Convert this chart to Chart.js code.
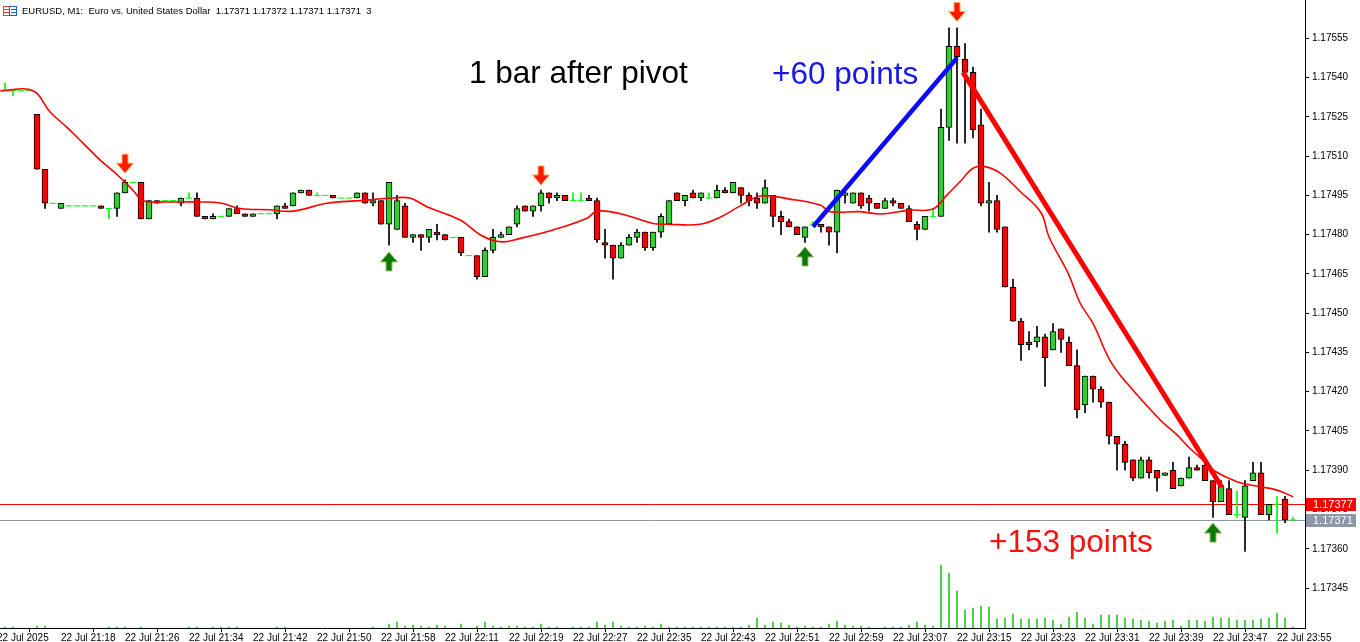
<!DOCTYPE html>
<html><head><meta charset="utf-8">
<script src="https://cdn.jsdelivr.net/npm/chart.js@4.4.1/dist/chart.umd.min.js"></script>
<style>html,body{margin:0;padding:0;background:#fff;overflow:hidden}#wrap{width:1360px;height:642px;position:relative}</style>
</head><body><div id="wrap"><canvas id="c" width="1360" height="642"></canvas></div>
<script>
// Prices are stored in points above 1.17000 (1 point = 0.00001)
const PRICE_BASE = 1.17, POINT = 0.00001;
const openPts = [535,535,535,535,526,505,492,490,491,491,491,491,491,490,490,496,500,500,486,493,493,493,492,494,494,487,486,487,487,490,488,487,488,488,488,491,491,496,497,495,495,495,494,494,494,496,492,493,484,482,491,479,480,479,481,480,479,479,472,472,464,474,479,480,484,491,489,491,496,494,495,493,493,494,493,477,476,471,476,479,481,475,481,484,496,493,496,494,494,494,497,496,498,495,494,492,495,487,485,483,479,484,484,483,481,495,492,496,494,492,490,493,492,490,484,482,487,487,521,552,547,542,522,492,493,483,460,447,439,439,441,436,444,439,430,415,426,421,416,403,400,394,387,394,390,388,390,384,387,391,392,386,378,383,373,372,386,389,373,377,379,371];
const highPts = [538,535,535,535,526,505,492,492,491,491,491,491,491,490,496,501,500,500,493,493,493,493,494,496,496,487,488,487,490,491,488,488,488,488,491,492,496,497,497,496,495,495,494,494,496,496,496,493,500,495,492,480,480,482,484,480,479,479,472,472,475,482,481,483,491,491,491,497,496,496,495,496,496,495,494,482,476,477,480,482,481,481,488,493,496,495,497,496,496,499,498,500,498,496,496,501,495,489,486,483,483,485,484,483,497,497,496,496,495,492,494,494,492,491,485,487,490,528,559,559,553,544,528,500,495,483,463,448,443,445,442,446,444,441,436,426,426,422,416,403,401,394,395,395,390,389,393,387,395,392,393,386,386,386,382,386,393,393,377,380,380,372];
const lowPts = [535,533,535,535,505,490,492,490,491,491,491,491,490,486,487,496,500,486,486,492,493,493,491,494,487,486,486,487,487,488,487,487,488,488,486,490,491,496,495,495,495,494,494,494,494,492,491,484,476,482,479,477,474,477,478,478,479,472,472,463,464,473,479,480,483,489,487,489,492,493,493,493,493,493,477,471,463,471,476,477,474,474,479,484,493,491,494,493,494,494,496,496,492,491,490,492,483,480,483,480,477,484,481,476,473,492,492,490,489,490,490,491,490,485,478,482,487,487,516,515,515,517,491,481,481,460,447,432,436,437,422,436,435,430,410,412,416,414,400,390,390,386,387,387,382,388,383,384,387,390,386,372,378,373,372,359,386,373,371,366,370,371];
const closePts = [535,535,535,535,505,492,492,492,491,491,491,491,490,490,496,500,500,486,493,492,493,493,494,494,487,486,487,487,490,488,487,488,488,488,491,490,496,497,495,495,495,494,494,494,496,492,493,484,500,493,479,480,479,482,480,478,479,473,472,464,474,479,480,483,490,489,491,496,494,495,493,493,493,493,478,476,471,476,479,481,475,481,487,493,493,495,494,496,494,497,496,500,495,493,492,498,487,485,483,480,483,484,483,481,497,496,496,491,492,490,493,492,490,485,482,487,487,521,552,548,542,520,492,493,482,460,447,438,438,441,433,443,440,430,413,426,421,416,403,400,393,387,394,389,387,389,383,387,391,390,386,378,384,373,373,384,389,373,377,377,371,371];
const volumes = [1,1,0,0,2,2,0,0,0,0,0,0,0,1,1,1,0,1,0,0,0,0,0,1,1,0,1,1,1,1,0,0,0,0,1,1,0,0,0,0,0,0,0,0,0,0,1,0,4,6,2,3,2,1,3,2,0,4,0,2,6,2,1,2,2,1,1,4,1,1,0,1,1,1,6,3,6,2,1,1,2,1,4,1,1,1,1,1,1,1,1,1,1,3,10,3,6,5,3,1,2,1,1,4,7,3,2,2,1,0,1,1,1,3,6,3,2,63,55,37,18,20,22,21,9,10,14,9,9,9,10,8,4,11,16,10,4,13,13,13,10,9,8,7,5,7,8,2,8,8,7,11,10,10,8,8,8,9,10,15,10,1];
// Moving average: [bar index, points]
const maIdx = [-0.6,3.5,5.6,7.75,9.75,11.9,14,16,17.25,20.25,24.4,27.1,29.4,33,36,40.25,44.4,48.5,50.6,52.75,56.9,59.4,61.9,64.4,68.5,72.75,74,76.9,81,82.75,86.9,89.4,91.9,94.4,98.1,101.9,103.1,106.9,109.4,113.1,116,117.75,119.4,121,122.5,124.4,126.9,129.5,130.5,132.9,134.4,136,138.1,140.25,144.4,146.5,148.1,149.75,151,154,156.9,159,161];
const maPts = [535,535,527,521,515,508.5,503,497,493,492.5,492.5,492,490,489.5,489,492,493,494,494,490.7,485.6,480,477.3,478.6,481.8,486.3,489,488,484.3,484,484,486.7,491,494.8,493.6,491.3,488.8,488.8,487.9,489.4,489.8,495.2,500.3,505.4,506,503.5,496.5,488.4,479.1,465.2,453.8,446.1,432.1,423.2,409.2,403.5,398.4,393.9,390.1,385.6,383.7,382.4,379.9];
const blueLineIdx = [101, 119], blueLinePts = [483, 547.5];
const redLineIdx = [119.75, 152.1], redLinePts = [542, 383.5];
const downArrowIdx = [15, 67, 119], downArrowPts = [503.5, 499, 561.5];
const upArrowIdx = [48, 100, 151], upArrowPts = [473.4, 475.3, 369.8];
const askPrice = 1.17377, bidPrice = 1.17371;
const priceTicks = [1.17345,1.17360,1.17375,1.17390,1.17405,1.17420,1.17435,1.17450,1.17465,1.17480,1.17495,1.17510,1.17525,1.17540,1.17555];
const timeTickIdx = [-1,7,15,23,31,39,47,55,63,71,79,87,95,103,111,119,127,135,143,151,159];
const timeTickLabels = ['22 Jul 2025','22 Jul 21:18','22 Jul 21:26','22 Jul 21:34','22 Jul 21:42','22 Jul 21:50','22 Jul 21:58','22 Jul 22:11','22 Jul 22:19','22 Jul 22:27','22 Jul 22:35','22 Jul 22:43','22 Jul 22:51','22 Jul 22:59','22 Jul 23:07','22 Jul 23:15','22 Jul 23:23','22 Jul 23:31','22 Jul 23:39','22 Jul 23:47','22 Jul 23:55'];

const P = v => +(PRICE_BASE + v*POINT).toFixed(6);
const idx = openPts.map((_, i) => i);
const isFlat = i => openPts[i] === closePts[i];
const GREEN = '#32cd32', RED = '#ff0000', LIME = '#00ff00';

const wickData = idx.map(i => ({x:i, y:[P(lowPts[i]), P(highPts[i])]}));
const bodyData = idx.map(i => isFlat(i) ? {x:i, y:null} : {x:i, y:[P(openPts[i]), P(closePts[i])]});
const flatData = idx.filter(isFlat).map(i => ({x:i, y:P(openPts[i])}));

const FONT = '"Liberation Sans", Arial, sans-serif';

const overlay = {
  id:'overlay',
  beforeDatasetsDraw(ch){
    const {ctx, chartArea:a} = ch, y = ch.scales.y;
    ctx.save();
    ctx.lineWidth = 1;
    ctx.strokeStyle = '#ff0000';
    let py = Math.round(y.getPixelForValue(askPrice)) + 0.5;
    ctx.beginPath(); ctx.moveTo(a.left, py); ctx.lineTo(a.right, py); ctx.stroke();
    ctx.strokeStyle = '#8a98a8';
    py = Math.round(y.getPixelForValue(bidPrice)) + 0.5;
    ctx.beginPath(); ctx.moveTo(a.left, py); ctx.lineTo(a.right, py); ctx.stroke();
    ctx.restore();
  },
  afterDatasetsDraw(ch){
    const {ctx} = ch, x = ch.scales.x, y = ch.scales.y;
    ctx.save();
    const arrow = (cx, tip, s, fill, edge) => {
      ctx.beginPath();
      ctx.moveTo(cx, tip);
      ctx.lineTo(cx - 8.5, tip - s*10);
      ctx.lineTo(cx - 3, tip - s*10);
      ctx.lineTo(cx - 3, tip - s*19);
      ctx.lineTo(cx + 3, tip - s*19);
      ctx.lineTo(cx + 3, tip - s*10);
      ctx.lineTo(cx + 8.5, tip - s*10);
      ctx.closePath();
      ctx.fillStyle = fill; ctx.fill();
      ctx.lineWidth = 1; ctx.strokeStyle = edge; ctx.stroke();
    };
    downArrowIdx.forEach((k, j) => arrow(x.getPixelForValue(k), y.getPixelForValue(P(downArrowPts[j])), 1, '#ff1a00', '#ffb060'));
    upArrowIdx.forEach((k, j) => arrow(x.getPixelForValue(k), y.getPixelForValue(P(upArrowPts[j])), -1, '#0a7a0a', '#9bbf60'));
    ctx.textBaseline = 'middle'; ctx.textAlign = 'left';
    ctx.font = '31.5px ' + FONT;
    ctx.fillStyle = '#000'; ctx.fillText('1 bar after pivot', 469, 74);
    ctx.fillStyle = '#1818e8'; ctx.fillText('+60 points', 772, 75);
    ctx.fillStyle = '#ff1010'; ctx.fillText('+153 points', 989, 543);
    ctx.font = '9.5px ' + FONT; ctx.fillStyle = '#000';
    ctx.fillText('EURUSD, M1:  Euro vs. United States Dollar  1.17371 1.17372 1.17371 1.17371  3', 22, 11);
    ctx.fillStyle = '#fff'; ctx.fillRect(3, 6, 14, 10);
    ctx.strokeStyle = '#e04040'; ctx.strokeRect(3.5, 6.5, 6, 9);
    ctx.strokeStyle = '#2060c0'; ctx.strokeRect(9.5, 6.5, 7, 9);
    ctx.fillStyle = '#e04040'; ctx.fillRect(4, 9, 5, 1); ctx.fillRect(4, 12, 5, 1);
    ctx.fillStyle = '#2060c0'; ctx.fillRect(11, 9, 5, 1); ctx.fillRect(11, 12, 5, 1);
    ctx.restore();
  },
  afterDraw(ch){
    const {ctx, chartArea:a} = ch, y = ch.scales.y;
    ctx.save();
    ctx.font = '11px ' + FONT; ctx.textBaseline = 'middle'; ctx.textAlign = 'left';
    const box = (v, bg) => {
      const py = Math.round(y.getPixelForValue(v));
      ctx.fillStyle = bg; ctx.fillRect(a.right + 1, py - 6, 50, 13);
      ctx.fillStyle = '#fff'; ctx.fillText(v.toFixed(5), a.right + 8, py + 0.5);
    };
    box(askPrice, '#ff0000');
    box(bidPrice, '#8a98a8');
    ctx.restore();
  }
};

new Chart(document.getElementById('c'), {
  type:'bar',
  data:{datasets:[
    {type:'bar', label:'vol', data: idx.map(i => ({x:i, y:volumes[i]})), yAxisID:'v', backgroundColor:'#22cc22', barThickness:1, grouped:false, order:6},
    {type:'bar', label:'wick', data: wickData, yAxisID:'y', backgroundColor: idx.map(i => isFlat(i) ? LIME : '#000'), barThickness:1, grouped:false, order:5},
    {type:'bar', label:'body', data: bodyData, yAxisID:'y', backgroundColor: idx.map(i => closePts[i] > openPts[i] ? GREEN : RED), borderColor:'#000', borderWidth:1, borderSkipped:false, barThickness:6, grouped:false, order:4},
    {type:'scatter', label:'flat', data: flatData, yAxisID:'y', pointStyle:'line', pointRadius:3.5, borderColor:LIME, borderWidth:1, order:3},
    {type:'line', label:'ma', data: maIdx.map((k, j) => ({x:k, y:P(maPts[j])})), yAxisID:'y', borderColor:'#ff0000', borderWidth:1.6, pointRadius:0, tension:0.4, order:2},
    {type:'line', label:'blue', data: blueLineIdx.map((k, j) => ({x:k, y:P(blueLinePts[j])})), yAxisID:'y', borderColor:'#0a0aff', borderWidth:4.5, pointRadius:0, order:1},
    {type:'line', label:'red', data: redLineIdx.map((k, j) => ({x:k, y:P(redLinePts[j])})), yAxisID:'y', borderColor:'#ff0000', borderWidth:5, pointRadius:0, order:1}
  ]},
  options:{
    responsive:false, animation:false, events:[],
    layout:{padding:0, autoPadding:false},
    plugins:{legend:{display:false}, tooltip:{enabled:false}},
    scales:{
      x:{type:'linear', min:-0.625, max:162.5, offset:false,
        afterBuildTicks: s => { s.ticks = timeTickIdx.map(v => ({value:v})); },
        afterFit: s => { s.height = 14; s.paddingLeft = 0; s.paddingRight = 0; },
        ticks:{autoSkip:false, maxRotation:0, align:'start', padding:0, font:{family:FONT, size:10}, color:'#000',
          callback:(v) => { const j = timeTickIdx.indexOf(v); return j >= 0 ? timeTickLabels[j] : ''; }},
        grid:{drawOnChartArea:false, tickLength:4, color:'#000'},
        border:{display:true, color:'#000'}
      },
      y:{type:'linear', position:'right', min:1.1732972, max:1.1756967,
        afterBuildTicks: s => { s.ticks = priceTicks.map(v => ({value:v})); },
        afterFit: s => { s.width = 55; s.paddingTop = 0; s.paddingBottom = 0; },
        ticks:{padding:3, font:{family:FONT, size:10}, color:'#000', callback: v => (+v).toFixed(5)},
        grid:{drawOnChartArea:false, tickLength:4, color:'#000'},
        border:{display:true, color:'#000'}
      },
      v:{type:'linear', display:false, min:0, max:628}
    }
  },
  plugins:[overlay]
});
</script></body></html>
